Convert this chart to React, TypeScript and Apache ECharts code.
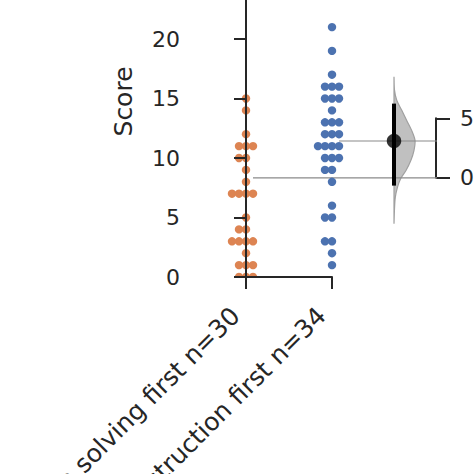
import React, { useEffect, useRef } from "react";
import * as echarts from "echarts";

// ---- data ----
const categories = ["Problem solving first n=30", "Instruction first n=34"];
const problemSolvingFirst = [15, 14, 12, 11, 11, 11, 10, 10, 9, 8, 7, 7, 7, 7, 5, 4, 4, 3, 3, 3, 3, 2, 1, 1, 1, 0, 0, 0];
const instructionFirst = [21, 19, 17, 16, 16, 16, 15, 15, 15, 14, 13, 13, 13, 12, 12, 12, 11, 11, 11, 11, 10, 10, 10, 9, 9, 8, 6, 5, 5, 3, 3, 2, 1];
const groupMeanLines = [8.33, 11.43];
const effectMean = 3.1;
const effectCI = [-0.65, 6.24];
const violinEffect = [8.49, 7.37, 6.52, 5.68, 4.84, 3.99, 3.15, 2.3, 1.46, 0.62, -0.06, -0.82, -1.67, -2.76, -3.86];
const violinDensity = [0, 0.024, 0.13, 0.37, 0.6, 0.84, 1.0, 0.95, 0.8, 0.57, 0.32, 0.16, 0.06, 0.02, 0];
const effectTicks = [0, 5];
const scoreInterval = 5;
const scoreLabelMax = 20;

// ---- layout constants ----
const W = 474;
const bottomPx = 277;
const pxPerUnit = 11.9;
const yMax = 29.5;
const leftSpineX = 202;
const group0X = 246;
const group1X = 332;
const effectSpineX = 437;
const effectDotX = 394;
const pxPerX = group1X - group0X;
const xMin = -(group0X - leftSpineX) / pxPerX;
const xMax = (effectSpineX - group0X) / pxPerX;
const effectX = (effectDotX - group0X) / pxPerX;
const dotStep = 7 / pxPerX;
const dotRadius = 4.2;
const lineStartOffset = 7 / pxPerX;
const violinHalfWidth = 21 / pxPerX;

const ink = "#262626";
const colors = ["#DD8452", "#4C72B0"];
const font = "DejaVu Sans";

function swarm(values: number[], groupIndex: number) {
  const seen: Record<string, number> = {};
  return values.map((v) => {
    const k = seen[v] || 0;
    seen[v] = k + 1;
    const idx = k === 0 ? 0 : k % 2 === 1 ? -(k + 1) / 2 : k / 2;
    return [groupIndex + idx * dotStep, v];
  });
}

export default function App() {
  const ref = useRef<HTMLDivElement>(null);
  useEffect(() => {
    if (!ref.current) return;
    const chart = echarts.init(ref.current, undefined, { renderer: "svg" });
    const zeroRef = groupMeanLines[0];
    const gridTop = bottomPx - yMax * pxPerUnit;
    const gridBottom = W - bottomPx;

    const option: any = {
      animation: false,
      backgroundColor: "#ffffff",
      textStyle: { fontFamily: font },
      grid: [
        {
          left: leftSpineX,
          right: W - effectSpineX,
          top: gridTop,
          bottom: gridBottom,
          outerBoundsMode: "none",
          containLabel: false,
        },
        {
          right: W - effectSpineX,
          width: 1,
          top: bottomPx - (zeroRef + effectTicks[1]) * pxPerUnit,
          height: (effectTicks[1] - effectTicks[0]) * pxPerUnit,
          outerBoundsMode: "none",
          containLabel: false,
        },
        {
          left: group0X,
          right: W - group1X,
          top: gridTop,
          bottom: gridBottom,
          outerBoundsMode: "none",
          containLabel: false,
        },
      ],
      xAxis: [
        { type: "value", gridIndex: 0, min: xMin, max: xMax, show: false },
        { type: "value", gridIndex: 1, min: 0, max: 1, show: false },
        {
          type: "value",
          gridIndex: 2,
          min: 0,
          max: 1,
          interval: 1,
          position: "bottom",
          z: 10,
          axisLine: { show: true, lineStyle: { color: ink, width: 2 } },
          axisTick: { show: true, length: 12, lineStyle: { color: ink, width: 2 } },
          splitLine: { show: false },
          axisLabel: {
            rotate: 45,
            margin: 24,
            padding: [0, 15, 0, 0],
            fontSize: 25,
            fontFamily: font,
            color: ink,
            formatter: (v: number) => categories[Math.round(v)] ?? "",
          },
        },
      ],
      yAxis: [
        {
          type: "value",
          gridIndex: 0,
          min: 0,
          max: yMax,
          interval: scoreInterval,
          position: "left",
          z: 10,
          name: "Score",
          nameLocation: "middle",
          nameGap: 66,
          nameTextStyle: { fontSize: 25, fontFamily: font, color: ink },
          axisLine: { show: true, lineStyle: { color: ink, width: 2 } },
          axisTick: { show: true, length: 12, lineStyle: { color: ink, width: 2 } },
          splitLine: { show: false },
          axisLabel: {
            margin: 22,
            fontSize: 22,
            fontFamily: font,
            color: ink,
            showMaxLabel: false,
            formatter: (v: number) => (v <= scoreLabelMax ? String(v) : ""),
          },
        },
        {
          type: "value",
          gridIndex: 0,
          min: -zeroRef,
          max: yMax - zeroRef,
          show: false,
        },
        {
          type: "value",
          gridIndex: 1,
          min: effectTicks[0],
          max: effectTicks[1],
          interval: effectTicks[1] - effectTicks[0],
          position: "right",
          axisLine: { show: true, lineStyle: { color: ink, width: 2 } },
          axisTick: { show: true, length: 14, lineStyle: { color: ink, width: 2 } },
          splitLine: { show: false },
          axisLabel: { margin: 23, fontSize: 22, fontFamily: font, color: ink },
        },
        { type: "value", gridIndex: 2, min: 0, max: yMax, show: false },
      ],
      series: [
        {
          type: "custom",
          xAxisIndex: 0,
          yAxisIndex: 1,
          clip: false,
          z: 1,
          data: violinEffect.map((e, i) => [effectX + violinDensity[i] * violinHalfWidth, e]),
          renderItem: (params: any, api: any) => {
            if (params.dataIndex !== 0) return null;
            const pts: number[][] = violinEffect.map((e, i) =>
              api.coord([effectX + violinDensity[i] * violinHalfWidth, e])
            );
            pts.push(api.coord([effectX, violinEffect[violinEffect.length - 1]]));
            pts.push(api.coord([effectX, violinEffect[0]]));
            return {
              type: "polygon",
              shape: { points: pts, smooth: 0.3 },
              style: { fill: "rgba(150,150,150,0.6)", stroke: "#a0a0a0", lineWidth: 1.2 },
            };
          },
        },
        ...groupMeanLines.map((m, gi) => ({
          type: "line",
          xAxisIndex: 0,
          yAxisIndex: 0,
          symbol: "none",
          z: 2,
          lineStyle: { color: "#8a8a8a", width: 1.2 },
          data: [
            [gi + lineStartOffset, m],
            [xMax, m],
          ],
        })),
        ...[problemSolvingFirst, instructionFirst].map((vals, gi) => ({
          type: "custom",
          xAxisIndex: 0,
          yAxisIndex: 0,
          clip: true,
          z: 3,
          data: swarm(vals, gi),
          renderItem: (params: any, api: any) => {
            const p = api.coord([api.value(0), api.value(1)]);
            return {
              type: "circle",
              shape: { cx: p[0], cy: p[1], r: dotRadius },
              style: { fill: colors[gi] },
            };
          },
        })),
        {
          type: "line",
          xAxisIndex: 0,
          yAxisIndex: 1,
          symbol: "none",
          z: 4,
          lineStyle: { color: "#000000", width: 4, cap: "butt" },
          data: [
            [effectX, effectCI[0]],
            [effectX, effectCI[1]],
          ],
        },
        {
          type: "scatter",
          xAxisIndex: 0,
          yAxisIndex: 1,
          z: 5,
          symbolSize: 14.5,
          itemStyle: { color: "#000000" },
          data: [[effectX, effectMean]],
        },
      ],
    };
    chart.setOption(option);
    return () => chart.dispose();
  }, []);
  return (
    <div
      ref={ref}
      style={{ position: "fixed", left: 0, top: 0, width: W, height: W, background: "#fff" }}
    />
  );
}
